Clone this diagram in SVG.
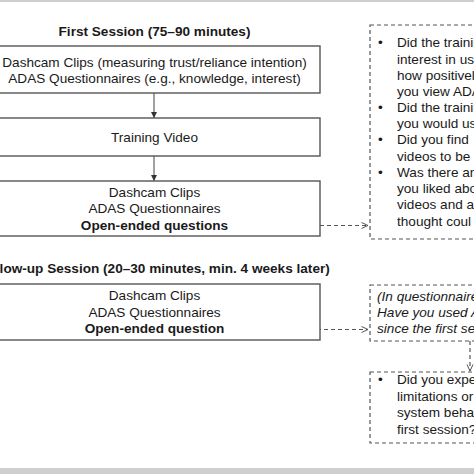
<svg xmlns="http://www.w3.org/2000/svg" width="474" height="474" viewBox="0 0 474 474">
<defs>
<marker id="ah" viewBox="0 0 8 8" refX="8" refY="4" markerWidth="6" markerHeight="6" orient="auto" markerUnits="userSpaceOnUse">
<path d="M0,0 L8,4 L0,8 z" fill="#333"/>
</marker>
<marker id="oh" viewBox="0 0 8 8" refX="7.5" refY="4" markerWidth="8" markerHeight="8" orient="auto" markerUnits="userSpaceOnUse">
<path d="M1,1 L7.5,4 L1,7" fill="none" stroke="#555" stroke-width="1"/>
</marker>
<style>
text{font-family:"Liberation Sans",Arial,sans-serif;font-size:13.6px;fill:#1a1a1a}
.c{text-anchor:middle}
.b{font-weight:bold}
.i{font-style:italic}
.box{fill:#fff;stroke:#555;stroke-width:1.4}
.dbox{fill:#fff;stroke:#555;stroke-width:1.2;stroke-dasharray:4 3}
.sl{stroke:#444;stroke-width:1;fill:none}
.dl{stroke:#555;stroke-width:1.2;fill:none;stroke-dasharray:4 3}
</style>
</defs>
<rect x="0" y="0" width="474" height="474" fill="#fff"/>
<rect x="0" y="0" width="474" height="2" fill="#cfcfcf"/>
<rect x="0" y="468" width="474" height="6" fill="#cfcfcf"/>

<text class="c b" x="154.5" y="36">First Session (75–90 minutes)</text>
<text class="c b" x="154.5" y="273">Follow-up Session (20–30 minutes, min. 4 weeks later)</text>

<g id="connectors">
<line class="sl" x1="154" y1="93" x2="154" y2="118" marker-end="url(#ah)"/>
<line class="sl" x1="154" y1="156" x2="154" y2="181" marker-end="url(#ah)"/>
<line class="dl" x1="236" y1="225.5" x2="368" y2="225.5" marker-end="url(#oh)"/>
<line class="dl" x1="233" y1="329.5" x2="368" y2="329.5" marker-end="url(#oh)"/>
<line class="dl" x1="470" y1="341" x2="470" y2="371" marker-end="url(#oh)"/>
</g>

<g id="box1">
<rect class="box" x="-12" y="46" width="332" height="47"/>
<text class="c" x="154.5" y="67">Dashcam Clips (measuring trust/reliance intention)</text>
<text class="c" x="154.5" y="83">ADAS Questionnaires (e.g., knowledge, interest)</text>
</g>
<g id="box2">
<rect class="box" x="-12" y="118" width="332" height="38"/>
<text class="c" x="154.5" y="142">Training Video</text>
</g>
<g id="box3">
<rect class="box" x="-12" y="181" width="332" height="55"/>
<text class="c" x="154.5" y="197">Dashcam Clips</text>
<text class="c" x="154.5" y="213">ADAS Questionnaires</text>
<text class="c b" x="154.5" y="230">Open-ended questions</text>
</g>
<g id="box4">
<rect class="box" x="-12" y="284" width="332" height="56"/>
<text class="c" x="154.5" y="300">Dashcam Clips</text>
<text class="c" x="154.5" y="317">ADAS Questionnaires</text>
<text class="c b" x="154.5" y="333">Open-ended question</text>
</g>

<g id="q1">
<rect class="dbox" x="370" y="25" width="130" height="214"/>
<text x="378" y="47">•</text>
<text x="397" y="47">Did the trainin</text>
<text x="397" y="64">interest in us</text>
<text x="397" y="80">how positively</text>
<text x="397" y="96">you view ADA</text>
<text x="378" y="112">•</text>
<text x="397" y="112">Did the trainin</text>
<text x="397" y="128">you would us</text>
<text x="378" y="144">•</text>
<text x="397" y="144">Did you find</text>
<text x="397" y="161">videos to be</text>
<text x="378" y="177">•</text>
<text x="397" y="177">Was there an</text>
<text x="397" y="193">you liked abo</text>
<text x="397" y="209">videos and a</text>
<text x="397" y="226">thought coul</text>
</g>
<g id="q2">
<rect class="dbox" x="370" y="285" width="130" height="56"/>
<text class="i" x="377" y="301">(In questionnaire</text>
<text class="i" x="377" y="317">Have you used A</text>
<text class="i" x="377" y="333">since the first se</text>
</g>
<g id="q3">
<rect class="dbox" x="370" y="372" width="130" height="71"/>
<text x="378" y="384">•</text>
<text x="397" y="384">Did you expe</text>
<text x="397" y="401">limitations or</text>
<text x="397" y="417">system behav</text>
<text x="397" y="434">first session?</text>
</g>
</svg>
